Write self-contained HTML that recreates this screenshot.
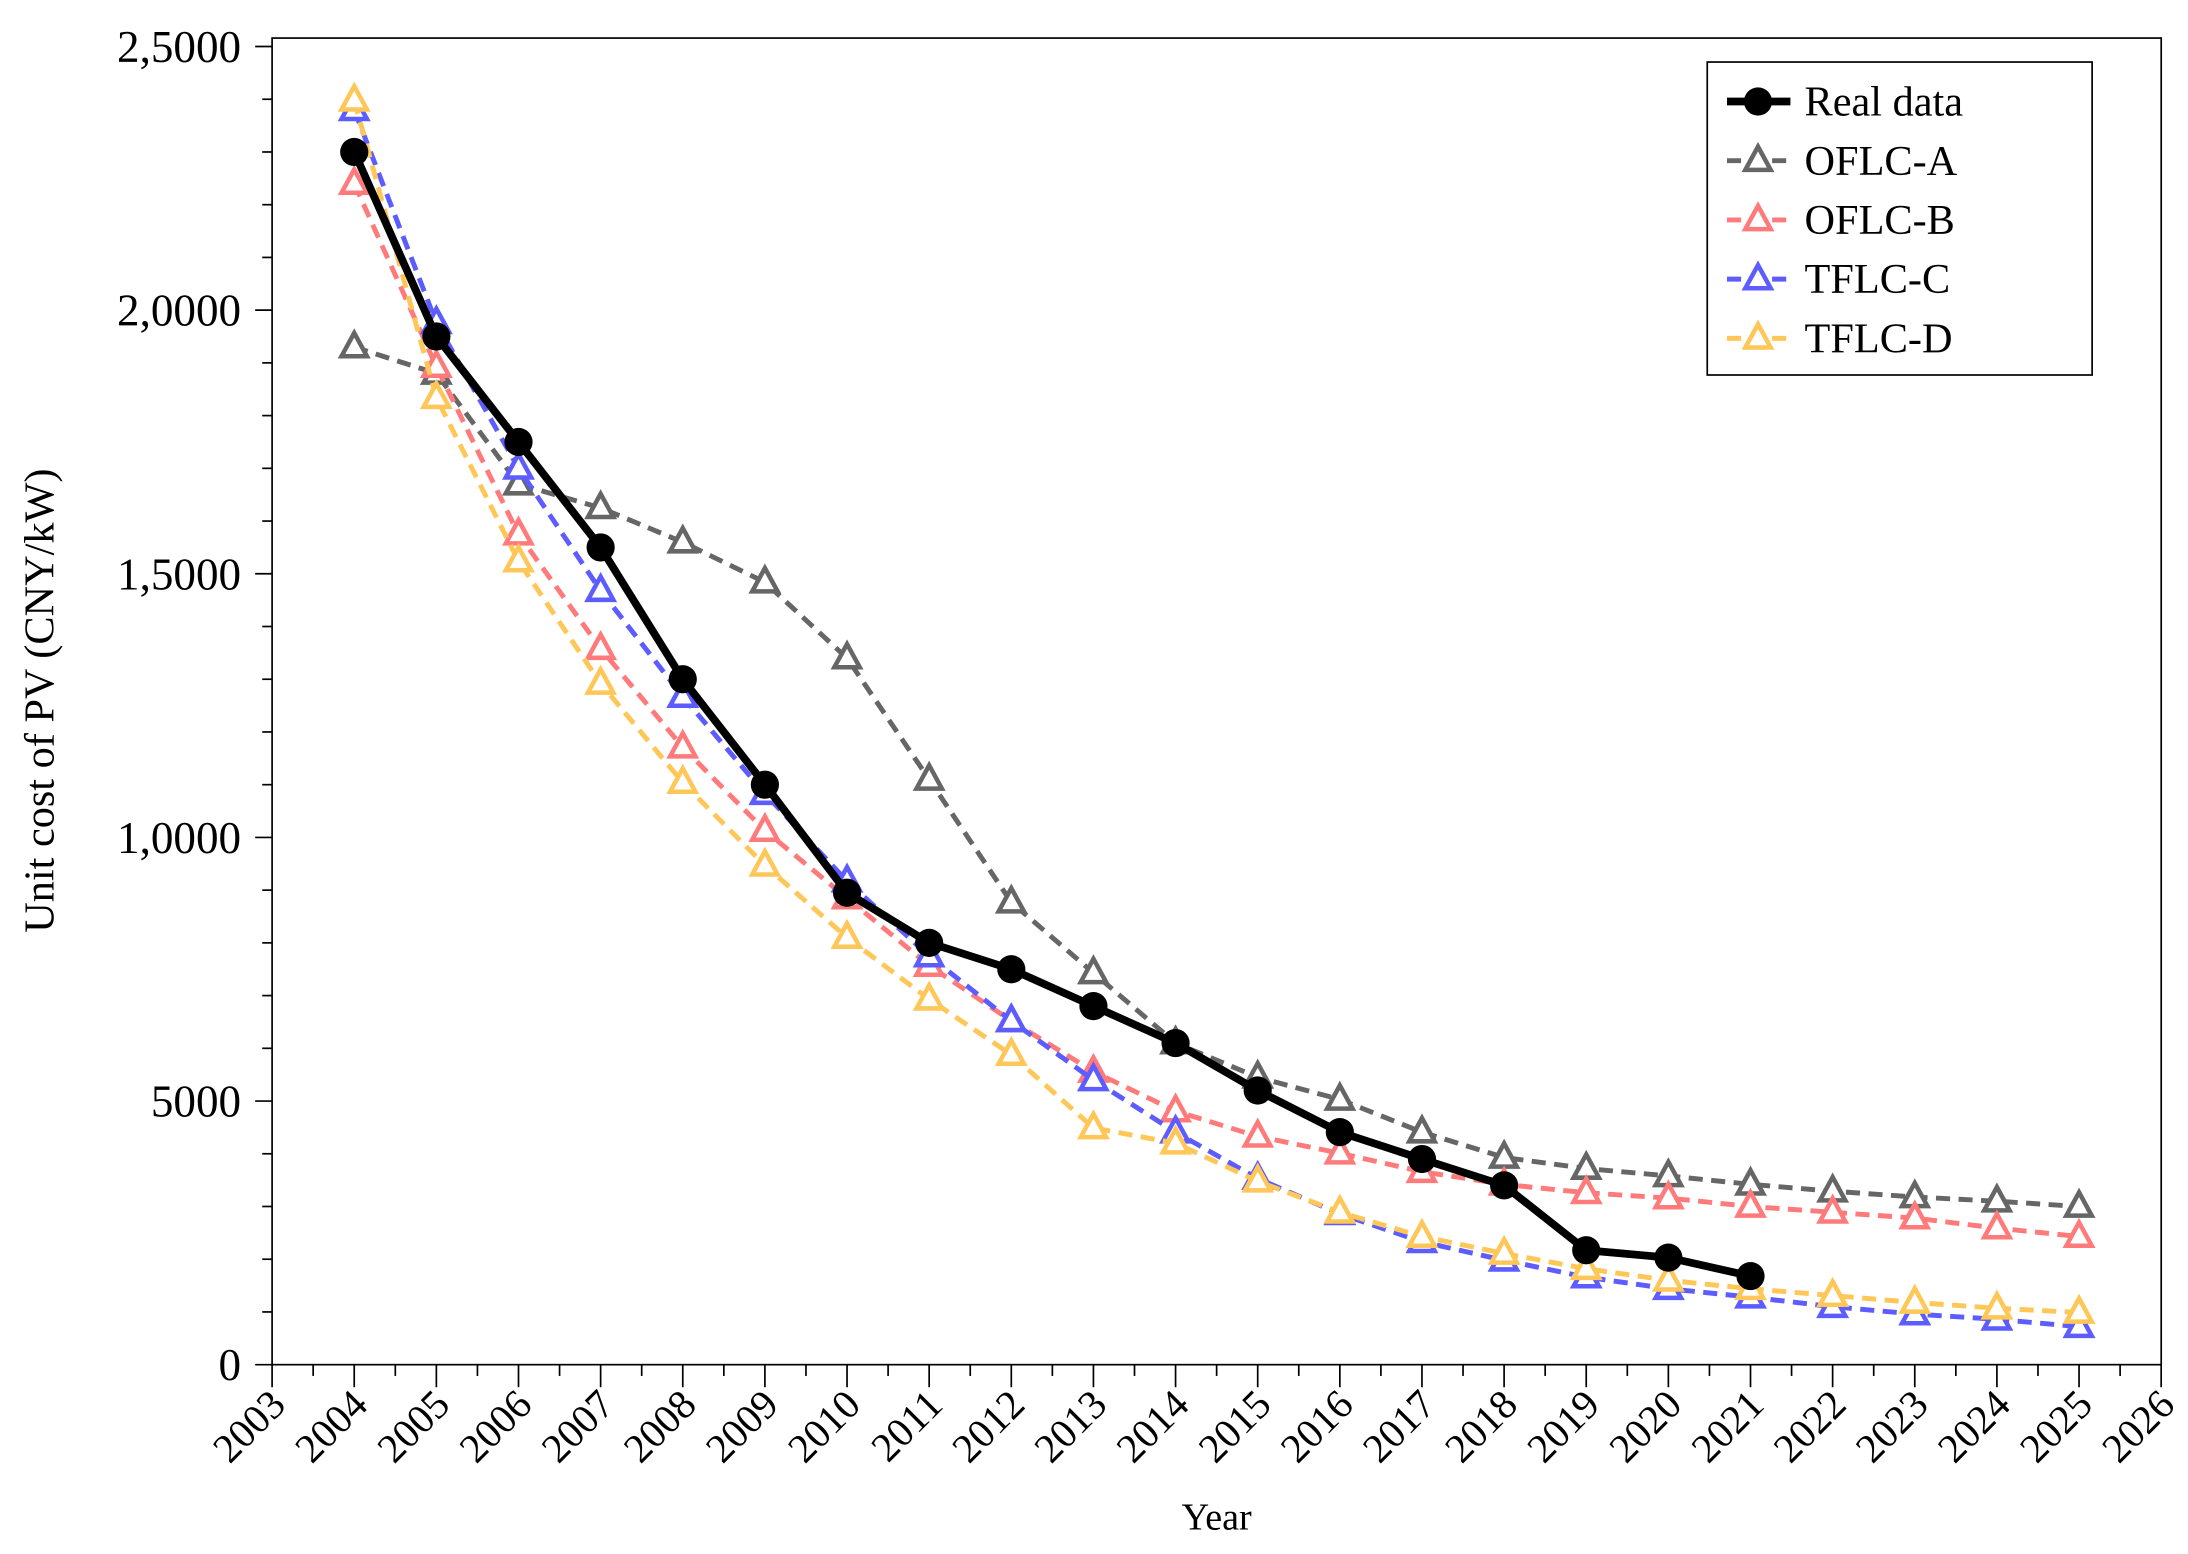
<!DOCTYPE html>
<html><head><meta charset="utf-8"><style>
html,body{margin:0;padding:0;background:#fff;}
svg{display:block;font-family:"Liberation Serif",serif;}
</style></head><body>
<svg id="s" width="2188" height="1554" viewBox="0 0 1552 1102.3" xmlns="http://www.w3.org/2000/svg">
<rect x="193" y="27" width="1340" height="941" fill="#fff" stroke="#000" stroke-width="1.2"/>
<g id="ticks" stroke="#000" stroke-width="1.2"></g>
<g id="labels" fill="#000"></g>
<g id="series"></g>
<text transform="translate(38,497) rotate(-90)" text-anchor="middle" font-size="30">Unit cost of PV (CNY/kW)</text>
<text x="863" y="1085" text-anchor="middle" font-size="27">Year</text>
<g id="legend">
<rect x="1211" y="44" width="273" height="222" fill="#fff" stroke="#000" stroke-width="1.2"/>
</g>
</svg>
<script>
const NS="http://www.w3.org/2000/svg";
const s=document.getElementById('s');
function el(t,a,p){const e=document.createElementNS(NS,t);for(const k in a)e.setAttribute(k,a[k]);(p||s).appendChild(e);return e;}
const X=y=>193+58.26*(y-2003), Y=v=>968-v*(935/25000);
const tk=document.getElementById('ticks'), lb=document.getElementById('labels');
for(let v=0;v<=25000;v+=1000){const maj=v%5000==0;el('line',{x1:maj?181:186,x2:193,y1:Y(v),y2:Y(v)},tk);
 if(maj){const t=el('text',{x:171,y:Y(v)+11,'text-anchor':'end','font-size':32},lb);t.textContent=v==0?'0':v==5000?'5000':(Math.floor(v/10000)+','+String(v%10000).padStart(4,'0'));}}
for(let y=2003;y<=2026;y+=0.5){const maj=Number.isInteger(y);el('line',{x1:X(y),x2:X(y),y1:968,y2:maj?984:976},tk);
 if(maj){const t=el('text',{transform:`translate(${X(y)+11},${998}) rotate(-45)`,'text-anchor':'end','font-size':29},lb);t.textContent=y;}}
const yrs=[];for(let y=2004;y<=2025;y++)yrs.push(y);
const series=[
 {n:'OFLC-A',c:'#666666',d:[19300,18800,16700,16250,15600,14840,13400,11100,8770,7430,6100,5450,5030,4410,3930,3720,3580,3420,3290,3180,3100,3000]},
 {n:'OFLC-B',c:'#ff7b7b',d:[22400,18930,15750,13580,11710,10130,8850,7570,6520,5560,4810,4330,4010,3660,3420,3260,3160,3000,2890,2780,2590,2430]},
 {n:'TFLC-C',c:'#5c5cff',d:[23800,19760,17000,14680,12670,10830,9170,7750,6520,5400,4410,3530,2860,2330,1980,1660,1440,1280,1100,960,860,720]},
 {n:'TFLC-D',c:'#ffc658',d:[23980,18340,15240,12920,11040,9470,8100,6930,5880,4490,4200,3480,2890,2430,2110,1820,1600,1440,1310,1180,1070,990]},
];
const real=[23000,19500,17500,15500,13000,11000,8950,8000,7500,6800,6100,5200,4410,3900,3400,2170,2030,1680];
const sg=document.getElementById('series');
function tri(x,y,c,g){el('path',{d:`M${x},${y-10} L${x+9},${y+6.5} L${x-9},${y+6.5} Z`,fill:'#fff',stroke:c,'stroke-width':3.2,'stroke-linejoin':'miter'},g);}
series.forEach(S=>{el('polyline',{points:S.d.map((v,i)=>X(yrs[i])+','+Y(v)).join(' '),fill:'none',stroke:S.c,'stroke-width':3.5,'stroke-dasharray':'10,6'},sg);
 S.d.forEach((v,i)=>tri(X(yrs[i]),Y(v),S.c,sg));});
el('polyline',{points:real.map((v,i)=>X(yrs[i])+','+Y(v)).join(' '),fill:'none',stroke:'#000','stroke-width':5.5,'stroke-linejoin':'round'},sg);
real.forEach((v,i)=>el('circle',{cx:X(yrs[i]),cy:Y(v),r:10,fill:'#000'},sg));
const lg=document.getElementById('legend');
const items=[{n:'Real data',c:'#000'}].concat(series);
items.forEach((it,i)=>{const y=72+42*i;
 if(i==0){el('line',{x1:1225,x2:1270,y1:y,y2:y,stroke:'#000','stroke-width':5.5},lg);el('circle',{cx:1247,cy:y,r:10,fill:'#000'},lg);}
 else{el('line',{x1:1225,x2:1270,y1:y,y2:y,stroke:it.c,'stroke-width':3.5,'stroke-dasharray':'10,6'},lg);tri(1247,y,it.c,lg);}
 const t=el('text',{x:1280,y:y+10,'font-size':30},lg);t.textContent=it.n;});
</script>
</body></html>
